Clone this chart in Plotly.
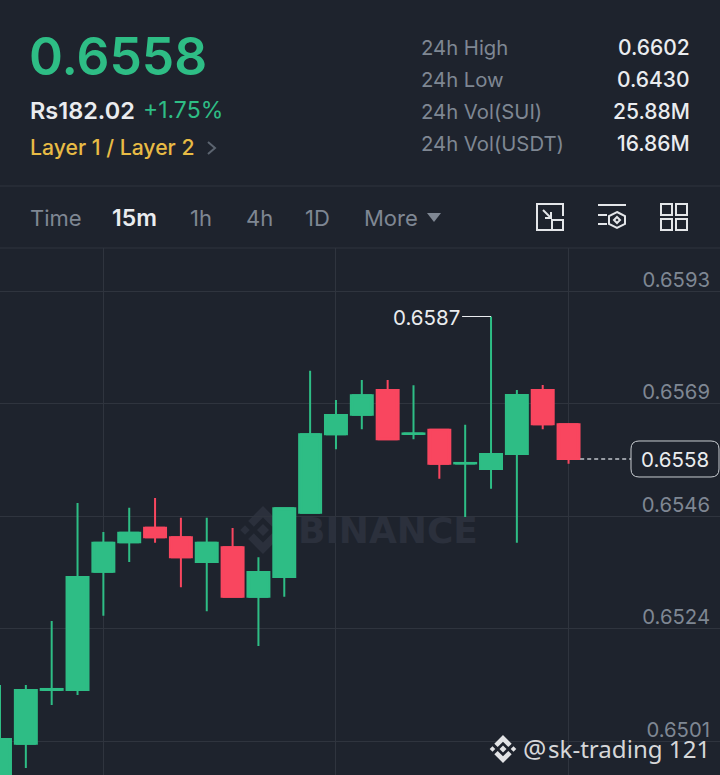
import plotly.graph_objects as go

W = 720
H = 775

BG = '#1e232d'
GREEN = '#2ebd85'
RED = '#f9465f'
GRID = '#2f343e'
GREY = '#7f8793'
WHITE = '#eaecef'
FONT = 'Inter'

# candles
candle_idx = list(range(23))
opens = [0.64920, 0.650006, 0.65110, 0.651099, 0.653507, 0.654105, 0.654402, 0.654207, 0.653704, 0.654003, 0.652998,
         0.653399, 0.654707, 0.656303, 0.656702, 0.657204, 0.65631, 0.656396, 0.65571, 0.655596, 0.655902, 0.657204, 0.656506]
highs = [0.651201, 0.651201, 0.652503, 0.654905, 0.654314, 0.654809, 0.655006, 0.654605, 0.654605, 0.654396, 0.653800,
         0.654797, 0.657597, 0.657001, 0.657408, 0.657408, 0.657300, 0.656396, 0.656498, 0.658700, 0.657204, 0.657306, 0.656506]
lows = [0.64900, 0.649512, 0.650794, 0.650997, 0.652611, 0.653704, 0.654097, 0.653189, 0.652701, 0.652998, 0.651995,
        0.652998, 0.654707, 0.655997, 0.656404, 0.656201, 0.656201, 0.655399, 0.654605, 0.655196, 0.654097, 0.656404, 0.655704]
closes = [0.650102, 0.651099, 0.65112, 0.653399, 0.654097, 0.654300, 0.654207, 0.653800, 0.654097, 0.652998, 0.653500,
          0.654797, 0.656303, 0.656695, 0.657096, 0.656201, 0.65632, 0.655704, 0.65572, 0.655902, 0.657102, 0.656506, 0.655800]

price_ticks = [0.659219, 0.656929, 0.654640, 0.652360, 0.650061]
price_labels = ['0.6593', '0.6569', '0.6546', '0.6524', '0.6501']
time_ticks = [4, 13, 22]

last_price = 0.6558
peak_price = 0.6587
peak_idx = 19

stat_names = ['24h High', '24h Low', '24h Vol(SUI)', '24h Vol(USDT)']
stat_values = ['0.6602', '0.6430', '25.88M', '16.86M']
tab_names = ['Time', '15m', '1h', '4h', '1D', 'More']
tab_lefts = [29, 111, 189, 245, 304, 363]


# pixel position on the page to paper coordinates
def px(x):
    return x / W


def py(y):
    return 1 - y / H


def label(x, y, text, size, color, anchor='left', weight=400, family=FONT):
    fig.add_annotation(x=px(x), y=py(y), xref='paper', yref='paper', text=text, showarrow=False,
                       xanchor=anchor, yanchor='middle', borderpad=0,
                       font=dict(size=size, color=color, family=family, weight=weight))


def poly(points, close=True):
    d = ''
    for i, (x, y) in enumerate(points):
        d += ('M' if i == 0 else 'L') + f'{px(x):.5f},{py(y):.5f} '
    return d + ('Z' if close else '')


def outline(points, color, width=2, close=False):
    fig.add_shape(type='path', path=poly(points, close), xref='paper', yref='paper',
                  line=dict(color=color, width=width))


def solid(points, color, layer='above'):
    fig.add_shape(type='path', path=poly(points), xref='paper', yref='paper', layer=layer,
                  fillcolor=color, line=dict(width=0))


# binance diamond logo
def logo(cx, cy, r, color, layer='above'):
    parts = [
        [(0, -.25), (.25, 0), (0, .25), (-.25, 0)],
        [(-.75, -.2), (-.55, 0), (-.75, .2), (-.95, 0)],
        [(.75, -.2), (.95, 0), (.75, .2), (.55, 0)],
        [(0, -1), (.62, -.38), (.38, -.14), (0, -.52), (-.38, -.14), (-.62, -.38)],
        [(0, 1), (.62, .38), (.38, .14), (0, .52), (-.38, .14), (-.62, .38)],
    ]
    for part in parts:
        solid([(cx + a * r, cy + b * r) for a, b in part], color, layer)


fig = go.Figure()

# candlestick bodies cap out narrower than the reference, so widen them with bars underneath
body_colors = [GREEN if c >= o else RED for o, c in zip(opens, closes)]
fig.add_trace(go.Bar(
    x=candle_idx,
    y=[abs(c - o) for o, c in zip(opens, closes)],
    base=[min(o, c) for o, c in zip(opens, closes)],
    width=0.85,
    marker=dict(color=body_colors, line=dict(color=body_colors, width=2)),
    showlegend=False
))

fig.add_trace(go.Candlestick(
    x=candle_idx, open=opens, high=highs, low=lows, close=closes,
    increasing=dict(line=dict(color=GREEN, width=2), fillcolor=GREEN),
    decreasing=dict(line=dict(color=RED, width=2), fillcolor=RED),
    whiskerwidth=0,
    showlegend=False
))

fig.update_layout(
    width=W, height=H,
    margin=dict(l=0, r=0, t=0, b=0),
    paper_bgcolor=BG, plot_bgcolor=BG,
    boxgap=0.0,
    showlegend=False,
    xaxis=dict(range=[0.0, 27.86], tickvals=time_ticks, showticklabels=False, ticks='',
               showgrid=True, gridcolor=GRID, gridwidth=1, zeroline=False, showline=False,
               rangeslider=dict(visible=False)),
    yaxis=dict(range=[0.649369, 0.660094], domain=[0, py(248)], side='right',
               tickvals=price_ticks, ticktext=price_labels, ticks='',
               ticklabelposition='inside top', ticklabelstandoff=7, ticklabelshift=3,
               tickfont=dict(size=20.3, color=GREY, family=FONT),
               showgrid=True, gridcolor=GRID, gridwidth=1, zeroline=False, showline=False)
)

# header
label(28, 56, f'{last_price:.4f}', 51.5, GREEN, weight=600)
label(29, 110, 'Rs182.02', 23.5, WHITE, weight=600)
label(142, 110, '+1.75%', 23, GREEN)
label(29, 147, 'Layer 1 / Layer 2', 21.2, '#e8bb45', weight=500)
outline([(208, 142), (215, 148), (208, 154)], '#5c6470', 2)

for i, name in enumerate(stat_names):
    label(420, 47.5 + i * 32, name, 20.3, GREY)
    label(691, 47.5 + i * 32, stat_values[i], 21, WHITE, anchor='right', weight=500)

# separators
for y in [186, 248]:
    fig.add_shape(type='line', xref='paper', yref='paper', x0=0, x1=1, y0=py(y), y1=py(y),
                  line=dict(color=GRID, width=1))

# tabs
for i, name in enumerate(tab_names):
    if name == '15m':
        label(tab_lefts[i], 218, name, 23, WHITE, weight=600)
    else:
        label(tab_lefts[i], 218, name, 22, GREY)
solid([(427, 213), (441, 213), (434, 222)], GREY)

# toolbar icons
ICON = '#e4e6e9'
outline([(551, 230), (537, 230), (537, 204), (563, 204), (563, 216)], ICON)
outline([(552, 220), (563, 220), (563, 230), (552, 230)], ICON, close=True)
outline([(543, 210), (551, 218)], ICON)
outline([(551, 212), (551, 218), (545, 218)], ICON)
outline([(598, 205), (626, 205)], ICON)
outline([(598, 215), (607, 215)], ICON)
outline([(598, 224), (607, 224)], ICON)
outline([(617, 212), (625, 216), (625, 224), (617, 228), (609, 224), (609, 216)], ICON, close=True)
outline([(617, 217), (620, 220), (617, 223), (614, 220)], ICON, close=True)
for x0, x1 in [(661, 672), (676, 687)]:
    for y0, y1 in [(204, 215), (219, 230)]:
        outline([(x0, y0), (x1, y0), (x1, y1), (x0, y1)], ICON, close=True)

# chart watermark
logo(263, 530, 24, '#2b303c', layer='below')
label(297, 530, 'BINANCE', 36, '#2b303c', weight=700, family='DejaVu Sans')

# peak marker
fig.add_shape(type='line', xref='x', yref='y', x0=peak_idx - 1.12, x1=peak_idx, y0=peak_price, y1=peak_price,
              line=dict(color=WHITE, width=1))
fig.add_annotation(x=peak_idx - 1.15, y=peak_price, xref='x', yref='y', text=f'{peak_price:.4f}', showarrow=False,
                   xanchor='right', yanchor='middle', yshift=-1, xshift=1, font=dict(size=20.5, color=WHITE, family=FONT))

# last price line and pill
fig.add_shape(type='line', xref='x', yref='y', x0=22.45, x1=24.45, y0=last_price, y1=last_price,
              line=dict(color='#c0c4ca', width=1.5, dash='4px,3px'))
r = 8
pill = (f'M{px(631 + r):.5f},{py(441):.5f} L{px(719 - r):.5f},{py(441):.5f} '
        f'Q{px(719):.5f},{py(441):.5f} {px(719):.5f},{py(441 + r):.5f} '
        f'L{px(719):.5f},{py(477 - r):.5f} Q{px(719):.5f},{py(477):.5f} {px(719 - r):.5f},{py(477):.5f} '
        f'L{px(631 + r):.5f},{py(477):.5f} Q{px(631):.5f},{py(477):.5f} {px(631):.5f},{py(477 - r):.5f} '
        f'L{px(631):.5f},{py(441 + r):.5f} Q{px(631):.5f},{py(441):.5f} {px(631 + r):.5f},{py(441):.5f} Z')
fig.add_shape(type='path', path=pill, xref='paper', yref='paper', fillcolor=BG,
              line=dict(color='#c8ccd1', width=1))
label(710, 459, f'{last_price:.4f}', 20.5, WHITE, anchor='right')

# user tag bottom right
logo(503, 749, 14, '#e2e3e5')
label(522, 748, '@', 26, '#d6d7d9', family='Noto Sans')
label(711, 748, 'sk-trading 121', 24.1, '#d6d7d9', anchor='right', family='Noto Sans')

fig.write_html('out.html', config=dict(displayModeBar=False),
               post_script="document.body.style.margin='0';document.body.style.background='" + BG + "';")
